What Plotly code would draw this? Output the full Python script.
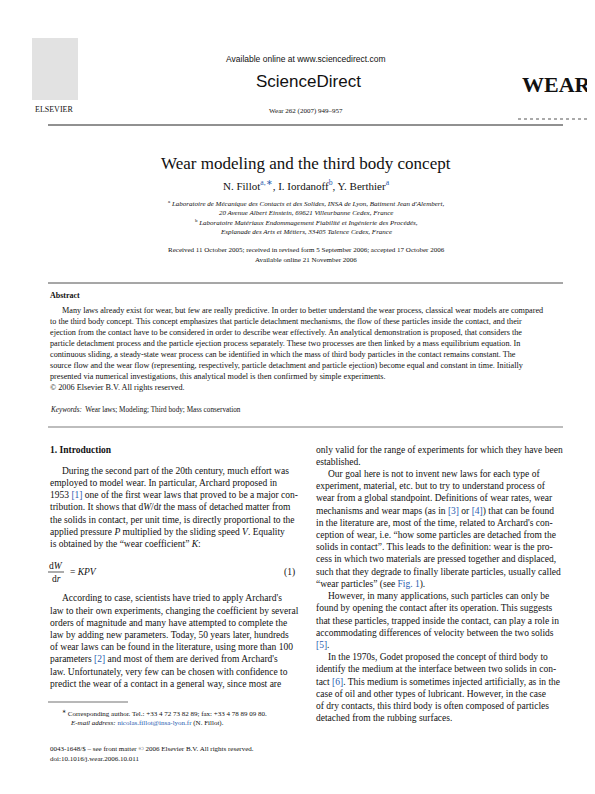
import plotly.graph_objects as go

B = "<span style='color:#2a5db0'>%s</span>"
header = [
    (298, 51, 8.5, "Available online at www.sciencedirect.com", "center", "Liberation Sans"),
    (300, 73, 17, "ScienceDirect", "center", "Liberation Sans"),
    (298, 103, 7, "Wear 262 (2007) 949–957", "center", "Liberation Serif"),
    (46, 101, 8, "ELSEVIER", "center", "Liberation Serif"),
]
title = "Wear modeling and the third body concept"
authors = "N. Fillot<sup>"+B%"a,∗"+"</sup>, I. Iordanoff<sup>"+B%"b"+"</sup>, Y. Berthier<sup>"+B%"a"+"</sup>"
affil = [
    (195, "<sup>a</sup> <i>Laboratoire de Mécanique des Contacts et des Solides, INSA de Lyon, Batiment Jean d'Alembert,</i>"),
    (205, "<i>20 Avenue Albert Einstein, 69621 Villeurbanne Cedex, France</i>"),
    (214, "<sup>b</sup> <i>Laboratoire Matériaux Endommagement Fiabilité et Ingénierie des Procédés,</i>"),
    (224, "<i>Esplanade des Arts et Métiers, 33405 Talence Cedex, France</i>"),
    (242, "Received 11 October 2005; received in revised form 5 September 2006; accepted 17 October 2006"),
    (252, "Available online 21 November 2006"),
]
abstract = [
    (52, "Many laws already exist for wear, but few are really predictive. In order to better understand the wear process, classical wear models are compared"),
    (40, "to the third body concept. This concept emphasizes that particle detachment mechanisms, the flow of these particles inside the contact, and their"),
    (40, "ejection from the contact have to be considered in order to describe wear effectively. An analytical demonstration is proposed, that considers the"),
    (40, "particle detachment process and the particle ejection process separately. These two processes are then linked by a mass equilibrium equation. In"),
    (40, "continuous sliding, a steady-state wear process can be identified in which the mass of third body particles in the contact remains constant. The"),
    (40, "source flow and the wear flow (representing, respectively, particle detachment and particle ejection) become equal and constant in time. Initially"),
    (40, "presented via numerical investigations, this analytical model is then confirmed by simple experiments."),
    (40, "© 2006 Elsevier B.V. All rights reserved."),
]
left_col = [
    (463, 52, "During the second part of the 20th century, much effort was"),
    (475, 40, "employed to model wear. In particular, Archard proposed in"),
    (487, 40, "1953 "+B%"[1]"+" one of the first wear laws that proved to be a major con-"),
    (499, 40, "tribution. It shows that d<i>W</i>/d<i>t</i> the mass of detached matter from"),
    (512, 40, "the solids in contact, per unit time, is directly proportional to the"),
    (524, 40, "applied pressure <i>P</i> multiplied by the sliding speed <i>V</i>. Equality"),
    (536, 40, "is obtained by the “wear coefficient” <i>K</i>:"),
    (590, 52, "According to case, scientists have tried to apply Archard's"),
    (603, 40, "law to their own experiments, changing the coefficient by several"),
    (615, 40, "orders of magnitude and many have attempted to complete the"),
    (627, 40, "law by adding new parameters. Today, 50 years later, hundreds"),
    (639, 40, "of wear laws can be found in the literature, using more than 100"),
    (651, 40, "parameters "+B%"[2]"+" and most of them are derived from Archard's"),
    (664, 40, "law. Unfortunately, very few can be chosen with confidence to"),
    (676, 40, "predict the wear of a contact in a general way, since most are"),
]
right_col = [
    (442, 306, "only valid for the range of experiments for which they have been"),
    (454, 306, "established."),
    (466, 318, "Our goal here is not to invent new laws for each type of"),
    (478, 306, "experiment, material, etc. but to try to understand process of"),
    (490, 306, "wear from a global standpoint. Definitions of wear rates, wear"),
    (503, 306, "mechanisms and wear maps (as in "+B%"[3]"+" or "+B%"[4]"+") that can be found"),
    (515, 306, "in the literature are, most of the time, related to Archard's con-"),
    (527, 306, "ception of wear, i.e. “how some particles are detached from the"),
    (539, 306, "solids in contact”. This leads to the definition: wear is the pro-"),
    (551, 306, "cess in which two materials are pressed together and displaced,"),
    (564, 306, "such that they degrade to finally liberate particles, usually called"),
    (576, 306, "“wear particles” (see "+B%"Fig. 1"+")."),
    (588, 318, "However, in many applications, such particles can only be"),
    (600, 306, "found by opening the contact after its operation. This suggests"),
    (613, 306, "that these particles, trapped inside the contact, can play a role in"),
    (625, 306, "accommodating differences of velocity between the two solids"),
    (637, 306, B%"[5]"+"."),
    (649, 318, "In the 1970s, Godet proposed the concept of third body to"),
    (661, 306, "identify the medium at the interface between two solids in con-"),
    (674, 306, "tact "+B%"[6]"+". This medium is sometimes injected artificially, as in the"),
    (686, 306, "case of oil and other types of lubricant. However, in the case"),
    (698, 306, "of dry contacts, this third body is often composed of particles"),
    (710, 306, "detached from the rubbing surfaces."),
]
footnotes = [
    (705, 52, "<sup>∗</sup> Corresponding author. Tel.: +33 4 72 73 82 89; fax: +33 4 78 89 09 80."),
    (715, 60, "<i>E-mail address:</i> "+B%"nicolas.fillot@insa-lyon.fr"+" (N. Fillot)."),
    (741, 40, "0043-1648/$ – see front matter © 2006 Elsevier B.V. All rights reserved."),
    (751, 40, "doi:10.1016/j.wear.2006.10.011"),
]

fig = go.Figure()
S = "Liberation Serif"
ann = []
def T(x, y, t, size=9, anchor="left", fam=S, color="#111"):
    ann.append(dict(x=x, y=y, text=t, xanchor=anchor, yanchor="middle", showarrow=False,
                    font=dict(family=fam, size=size, color=color)))
for x, y, s, t, a, f in header:
    T(x, y, t, s, a, f)
T(586, 76, "<b>WEAR</b>", 22, "right")
T(298, 155, title, 17, "center")
T(298, 177, authors, 11, "center")
for y, t in affil:
    T(298, y, t, 7, "center")
T(40, 287, "<b>Abstract</b>", 8)
for i, (x, t) in enumerate(abstract):
    T(x, 302 + 11 * i, t, 8.2)
T(40, 402, "<i>Keywords:</i>  Wear laws; Modeling; Third body; Mass conservation", 7.2)
T(40, 442, "<b>1. Introduction</b>", 9.5)
for y, x, t in left_col + right_col:
    T(x, y, t, 9.5)
T(48, 558, "d<i>W</i>", 9.5, "center"); T(48, 571, "d<i>r</i>", 9.5, "center")
T(60, 564, "= <i>KPV</i>", 9.5); T(289, 564, "(1)", 9.5, "right")
for y, x, t in footnotes:
    T(x, y, t, 7)

shapes = [dict(type="line", x0=40, x1=555, y0=y, y1=y, line=dict(color="#222", width=w))
          for y, w in [(117, 1), (275, 0.8), (419, 0.6)]]
shapes.append(dict(type="line", x0=40, x1=56, y0=564, y1=564, line=dict(color="#111", width=0.7)))
shapes.append(dict(type="line", x0=40, x1=120, y0=694, y1=694, line=dict(color="#111", width=0.6)))
shapes.append(dict(type="rect", x0=24, x1=70, y0=30, y1=92, fillcolor="#e2e2e2", line=dict(width=0)))
shapes.append(dict(type="line", x0=510, x1=585, y0=111, y1=111, line=dict(color="#aaa", width=2, dash="dot")))

fig.update_layout(width=595, height=794, margin=dict(l=0, r=0, t=0, b=0),
                  paper_bgcolor="white", plot_bgcolor="white",
                  xaxis=dict(range=[0, 595], visible=False, fixedrange=True),
                  yaxis=dict(range=[794, 0], visible=False, fixedrange=True),
                  annotations=ann, shapes=shapes, showlegend=False)
fig.write_html("out.html")
